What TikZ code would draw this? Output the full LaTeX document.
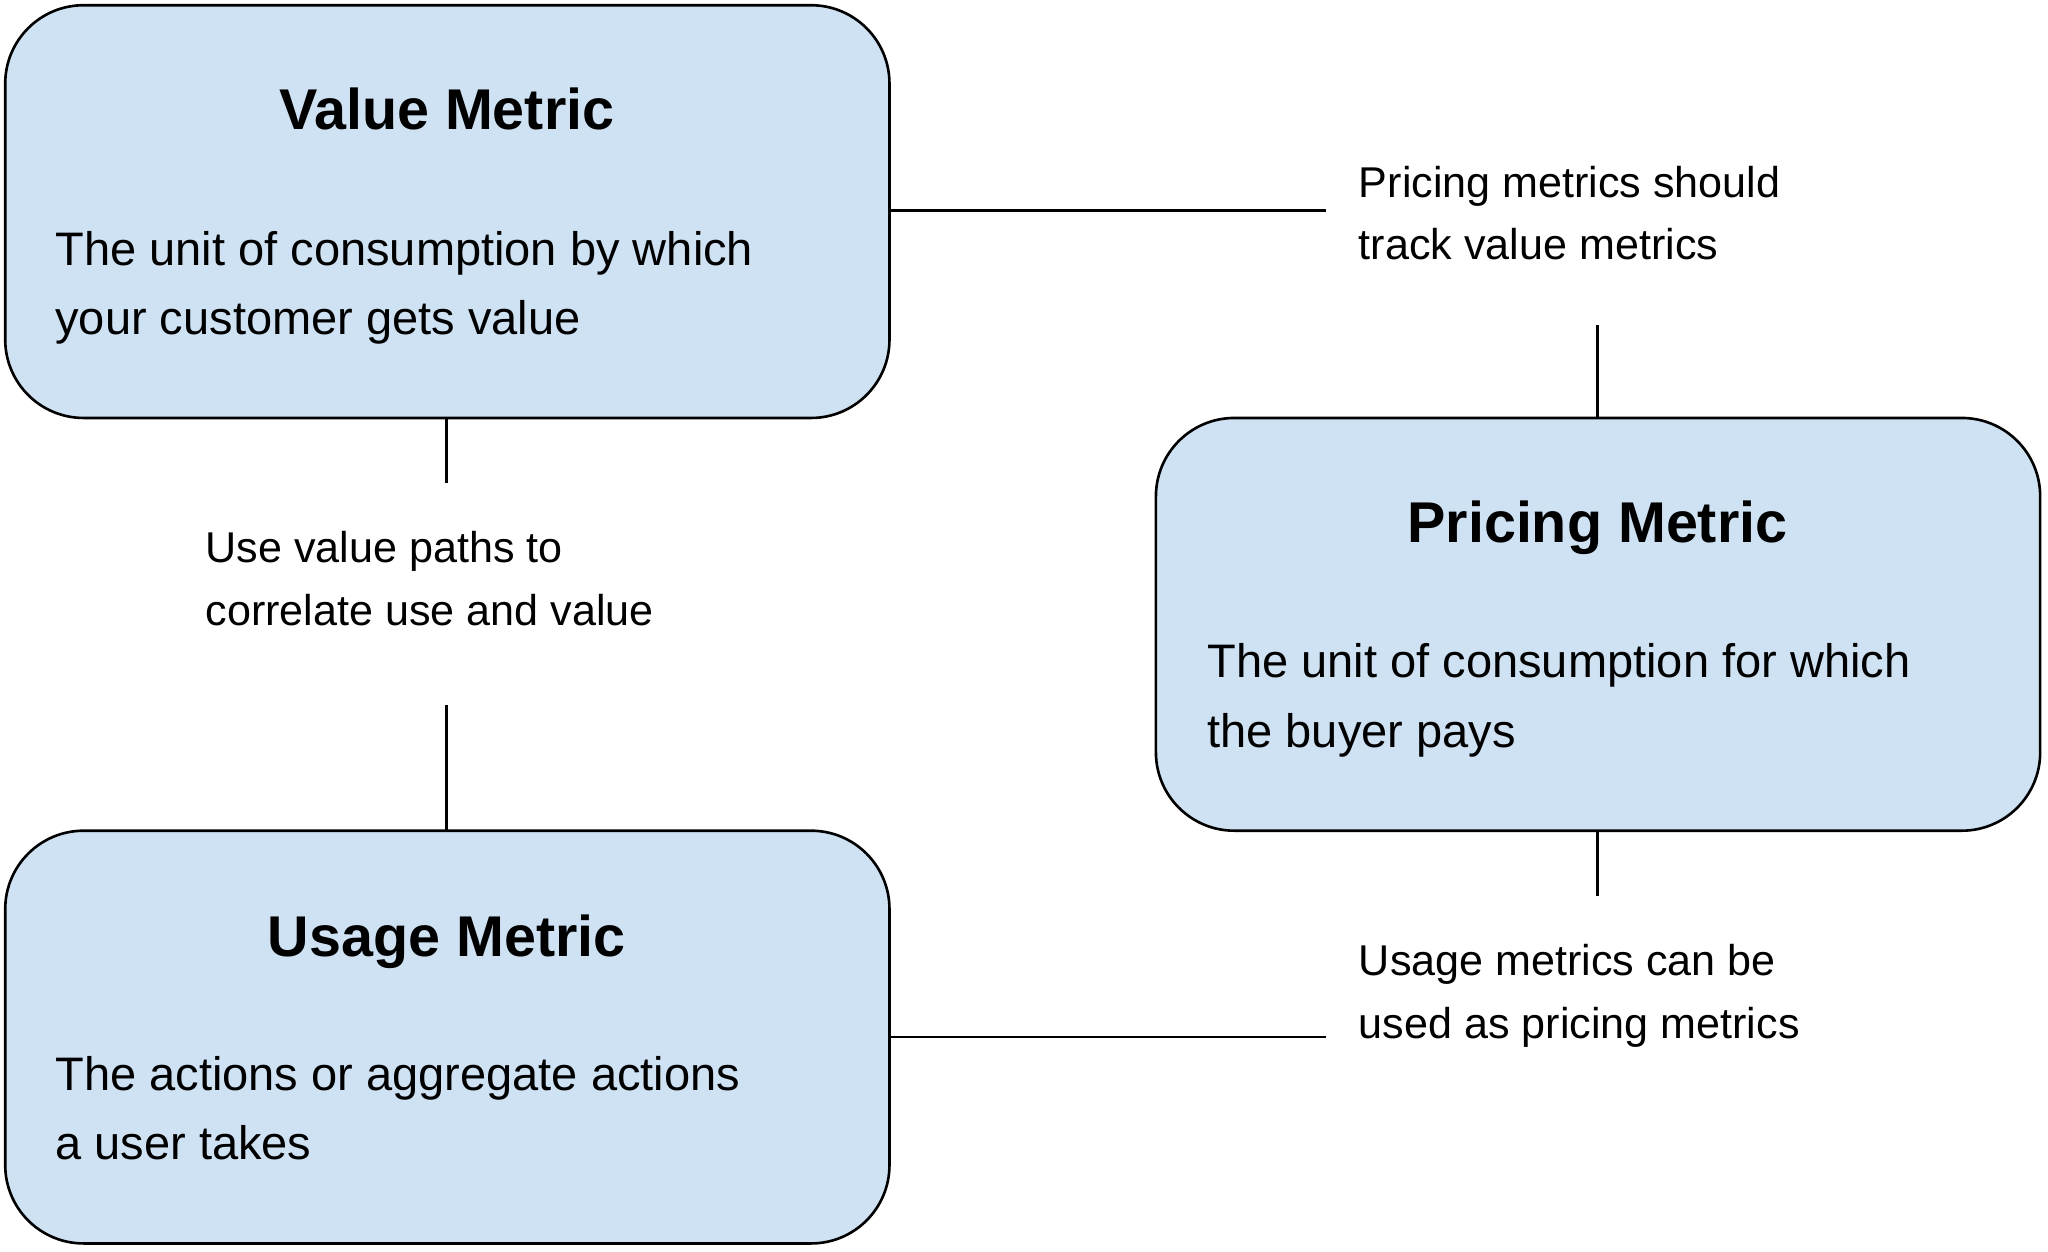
\documentclass[tikz,border=0pt]{standalone}
\usepackage{fontspec}
\setmainfont{Liberation Sans}
\definecolor{boxblue}{HTML}{CFE2F3}
\begin{document}
\begin{tikzpicture}[x=0.5pt,y=-0.5pt,
  box/.style={draw=black,line width=1pt,fill=boxblue,rounded corners=30pt,inner sep=0pt},
  ttl/.style={font=\fontsize{22}{26}\selectfont\bfseries,anchor=base,inner sep=0pt},
  body/.style={font=\fontsize{18}{26.5}\selectfont,anchor=base west,inner sep=0pt,align=left},
  lbl/.style={font=\fontsize{16.5}{24}\selectfont,anchor=base west,inner sep=0pt,align=left},
  conn/.style={line width=1pt}]
\useasboundingbox (0,0) rectangle (1568,958);
% boxes
\draw[box] (4,4) rectangle (681,320);
\coordinate (vR) at (681,161); \coordinate (vB) at (342,320);
\draw[box] (885,320) rectangle (1562,636);
\coordinate (pT) at (1223,320); \coordinate (pB) at (1223,636);
\draw[box] (4,636) rectangle (681,952);
\coordinate (uT) at (342,636); \coordinate (uR) at (681,794);
% box texts
\node[ttl] (vt) at (342,99) {Value Metric};
\node[body] (vb1) at (42,203) {The unit of consumption by which};
\node[body] (vb2) at (42,256) {your customer gets value};
\node[ttl] (pt) at (1223,415) {Pricing Metric};
\node[body] (pb1) at (924,519) {The unit of consumption for which};
\node[body] (pb2) at (924,572) {the buyer pays};
\node[ttl] (ut) at (342,732) {Usage Metric};
\node[body] (ub1) at (42,835) {The actions or aggregate actions};
\node[body] (ub2) at (42,888) {a user takes};
% labels
\node[lbl] (l1a) at (1040,151) {Pricing metrics should};
\node[lbl] (l1b) at (1040,199) {track value metrics};
\node[lbl] (l2a) at (157,431) {Use value paths to};
\node[lbl] (l2b) at (157,479) {correlate use and value};
\node[lbl] (l3a) at (1040,747) {Usage metrics can be};
\node[lbl] (l3b) at (1040,795) {used as pricing metrics};
% connector ends
\coordinate (c1) at (1015,161);
\coordinate (c2) at (1223,249);
\coordinate (c3) at (342,370);
\coordinate (c4) at (342,540);
\coordinate (c5) at (1223,686);
\coordinate (c6) at (1015,794);
\draw[conn] (vR) -- (c1);
\draw[conn] (c2) -- (pT);
\draw[conn] (vB) -- (c3);
\draw[conn] (c4) -- (uT);
\draw[conn] (pB) -- (c5);
\draw[conn] (uR) -- (c6);
\end{tikzpicture}
\end{document}
